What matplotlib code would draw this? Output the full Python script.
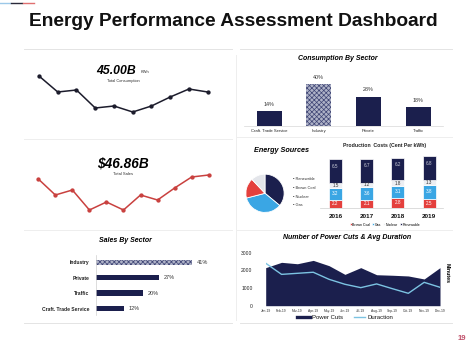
import matplotlib
matplotlib.use('Agg')
import matplotlib.pyplot as plt
from matplotlib.lines import Line2D

W, H = 474, 355
plt.rcParams['font.family'] = ['Liberation Sans', 'DejaVu Sans']
plt.rcParams['hatch.linewidth'] = 0.5

NAVY = '#1b1f4d'
RED = '#e4403d'
LBLUE = '#3aa6e4'
NUCL = '#eceef2'
PIEGRAY = '#e3e5ea'
SALESRED = '#c9413f'
DURBLUE = '#7cc3e2'
HATCHFACE = '#aeb2c7'
HATCHEDGE = '#3e4474'

# ---------------- data ----------------
cons_values = [4.4, 3.6, 3.7, 2.8, 2.9, 2.6, 2.9, 3.35, 3.75, 3.6]
sales_values = [4.8, 4.0, 4.25, 3.25, 3.65, 3.25, 4.0, 3.75, 4.35, 4.9, 5.0]

sector_cats = ['Craft. Trade Service', 'Industry', 'Private', 'Traffic']
sector_cons = [14, 40, 28, 18]

source_labels = ['Renewable', 'Gas', 'Brown Coal', 'Nuclear']
source_share = [36, 35, 17, 12]
legend_sources = ['Renewable', 'Brown Coal', 'Nuclear', 'Gas']

years = ['2016', '2017', '2018', '2019']
cost_brown = [2.2, 2.1, 2.8, 2.5]
cost_gas = [3.2, 3.6, 3.1, 3.8]
cost_nuclear = [1.5, 1.2, 1.8, 1.3]
cost_renew = [6.5, 6.7, 6.2, 6.8]

sales_cats = ['Industry', 'Private', 'Traffic', 'Craft. Trade Service']
sales_share = [41, 27, 20, 12]

months = ['Jan-19', 'Feb-19', 'Mar-19', 'Apr-19', 'May-19', 'Jun-19',
          'Jul-19', 'Aug-19', 'Sep-19', 'Oct-19', 'Nov-19', 'Dec-19']
power_cuts = [2150, 2450, 2370, 2560, 2260, 1770, 2150, 1750, 1720, 1680, 1510, 2150]
duration = [2400, 1770, 1830, 1890, 1490, 1210, 1020, 1230, 960, 700, 1320, 1040]

# ---------------- figure ----------------
fig = plt.figure(figsize=(W / 100, H / 100), dpi=100)
fig.patch.set_facecolor('white')


def box(x0, y0, x1, y1):
    return fig.add_axes([x0 / W, 1 - y1 / H, (x1 - x0) / W, (y1 - y0) / H])


def ftext(x, y, s, **kw):
    kw.setdefault('ha', 'center')
    kw.setdefault('va', 'center')
    return fig.text(x / W, 1 - y / H, s, **kw)


def fline(xs, ys, color='#e4e4e4', lw=0.7):
    fig.add_artist(Line2D([x / W for x in xs], [1 - y / H for y in ys],
                          color=color, lw=lw))


def clean(ax):
    for s in ax.spines.values():
        s.set_visible(False)
    ax.set_xticks([])
    ax.set_yticks([])
    ax.patch.set_alpha(0)


# decorative top-left strokes
fline([0, 10], [2.5, 2.5], color='#9cc8e8', lw=1.0)
fline([11, 22], [2.5, 2.5], color='#2a2a3a', lw=1.0)
fline([23, 34], [2.5, 2.5], color='#e07070', lw=1.0)

# title
ftext(233, 21, 'Energy Performance Assessment Dashboard', fontsize=13.8,
      fontweight='bold', color='#111111')

# panel separators
for y in (49, 323):
    fline([24, 232], [y, y])
    fline([240, 452], [y, y])
fline([24, 232], [139, 139], color='#eeeeee')
fline([24, 232], [230, 230], color='#eeeeee')
fline([236, 452], [137, 137], color='#eeeeee')
fline([236, 452], [230, 230], color='#eeeeee')
fline([236, 236], [55, 320], color='#eeeeee')

# ---------------- consumption line ----------------
ax = box(39, 60, 207.7, 130)
ax.plot(range(len(cons_values)), cons_values, color='#1c1c2c', lw=1.1,
        marker='o', ms=2.1, clip_on=False)
ax.set_xlim(0, len(cons_values) - 1)
ax.set_ylim(1.7, 5.2)
clean(ax)
ftext(116.5, 70.5, '45.00B', fontsize=8.8, fontweight='bold', style='italic')
ftext(140.5, 72.3, 'KWh', fontsize=2.9, ha='left', color='#333333')
ftext(123, 80.7, 'Total Consumption', fontsize=2.9, color='#333333')

# ---------------- sales line ----------------
ax = box(38.3, 155, 208.7, 220)
ax.plot(range(len(sales_values)), sales_values, color=SALESRED, lw=1.1,
        marker='o', ms=2.1, clip_on=False)
ax.set_xlim(0, len(sales_values) - 1)
ax.set_ylim(2.75, 6.0)
clean(ax)
ftext(123.3, 163.3, '$46.86B', fontsize=9.8, fontweight='bold', style='italic')
ftext(123.3, 174, 'Total Sales', fontsize=3.0, color='#333333')

# ---------------- consumption by sector ----------------
ax = box(244.35, 60, 443.05, 126)
xs = list(range(len(sector_cats)))
bars = ax.bar(xs, sector_cons, width=0.5, color=NAVY, linewidth=0)
bars[1].set_facecolor(HATCHFACE)
bars[1].set_edgecolor(HATCHEDGE)
bars[1].set_hatch('xxxxxxx')
ax.set_xlim(-0.5, 3.5)
ax.set_ylim(0, 63.5)
for x, v in zip(xs, sector_cons):
    ax.annotate(f'{v}%', (x, v), xytext=(0, 4.5), textcoords='offset pixels',
                ha='center', va='bottom', fontsize=3.9, color='#333333')
clean(ax)
ax.spines['bottom'].set_visible(True)
ax.spines['bottom'].set_color('#d8d8d8')
ax.spines['bottom'].set_linewidth(0.5)
ax.set_xticks(xs)
ax.set_xticklabels(sector_cats, fontsize=3.0, color='#222222')
ax.tick_params(axis='x', length=0, pad=2.2)
ftext(338, 59, 'Consumption By Sector', fontsize=5.0, fontweight='bold',
      style='italic')

# ---------------- energy sources pie ----------------
ax = box(245.5, 173.8, 284.5, 212.8)
ax.pie(source_share, colors=[NAVY, LBLUE, RED, PIEGRAY], startangle=90,
       counterclock=False, radius=1.0,
       wedgeprops=dict(edgecolor='white', linewidth=0.6))
ax.set_xlim(-1.02, 1.02)
ax.set_ylim(-1.02, 1.02)
ax.set_aspect('equal')
ftext(281.7, 150, 'Energy Sources', fontsize=5.2, fontweight='bold',
      style='italic')
for lab, y in zip(legend_sources, [179, 188.3, 196.7, 205]):
    ftext(293, y, '\u25aa ' + lab, fontsize=2.8, ha='left', color='#333333')

# ---------------- production costs stacked ----------------
ax = box(320, 150, 443, 207.7)
xs = list(range(len(years)))
spacing = 31.17
ax.set_xlim((320 - 335.5) / spacing, (443 - 335.5) / spacing)
ax.set_ylim(0, 57.7 / 3.61)
bw = 13 / spacing
bottoms = [0] * 4
segs = [(cost_brown, RED, 'white', 'Brown Coal'),
        (cost_gas, LBLUE, 'white', 'Gas'),
        (cost_nuclear, NUCL, '#333333', 'Nuclear'),
        (cost_renew, NAVY, '#c9ccd8', 'Renewable')]
for vals, col, tcol, lab in segs:
    ax.bar(xs, vals, width=bw, bottom=bottoms, color=col, edgecolor='white',
           linewidth=0.5, label=lab)
    for x, b, v in zip(xs, bottoms, vals):
        ax.text(x, b + v / 2 if lab != 'Renewable' else b + v * 0.7,
                f'{v}', ha='center', va='center', fontsize=3.3, color=tcol)
    bottoms = [b + v for b, v in zip(bottoms, vals)]
clean(ax)
ax.spines['bottom'].set_visible(True)
ax.spines['bottom'].set_color('#cfcfcf')
ax.spines['bottom'].set_linewidth(0.5)
ax.set_xticks(xs)
ax.set_xticklabels(years, fontsize=4.6, fontweight='bold', color='#111111')
ax.tick_params(axis='x', length=0, pad=4.2)
ftext(385, 145, 'Production  Costs (Cent Per kWh)', fontsize=3.7,
      fontweight='bold', color='#222222')
ax.legend(loc='center', bbox_to_anchor=(385 / W, 1 - 224.5 / H),
          bbox_transform=fig.transFigure, ncol=4, fontsize=2.5,
          frameon=False, handlelength=0.5, handleheight=0.5,
          handletextpad=0.2, columnspacing=0.6, borderpad=0)

# ---------------- sales by sector ----------------
ax = box(96.3, 255, 215, 315)
ys = list(range(len(sales_cats)))
hb = ax.barh(ys, sales_share, height=0.34, color=NAVY, linewidth=0)
hb[0].set_facecolor(HATCHFACE)
hb[0].set_edgecolor(HATCHEDGE)
hb[0].set_hatch('xxxxxxx')
ax.set_ylim((315 - 262.3) / 15.4, (255 - 262.3) / 15.4)
ax.set_xlim(0, 118.7 / 2.334)
for y, v in zip(ys, sales_share):
    ax.annotate(f'{v}%', (v, y), xytext=(4.5, 0), textcoords='offset pixels',
                ha='left', va='center', fontsize=4.0, color='#333333')
clean(ax)
ax.spines['left'].set_visible(True)
ax.spines['left'].set_color('#cfcfcf')
ax.spines['left'].set_linewidth(0.5)
ax.set_yticks(ys)
ax.set_yticklabels(sales_cats, fontsize=3.6, fontweight='bold', color='#222222')
ax.tick_params(axis='y', length=0, pad=5)
ftext(125, 240.7, 'Sales By Sector', fontsize=5.0, fontweight='bold',
      style='italic')

# ---------------- power cuts ----------------
ax = box(265.7, 250, 440, 305.7)
xs = list(range(len(months)))
ax.fill_between(xs, power_cuts, 0, color=NAVY, linewidth=0)
ax.plot(xs, duration, color=DURBLUE, lw=1.0)
ax.set_xlim(0, 11)
ax.set_ylim(0, 55.7 / 17.7 * 1000)
for s in ax.spines.values():
    s.set_visible(False)
ax.patch.set_alpha(0)
ax.set_yticks([0, 1000, 2000, 3000])
ax.set_yticklabels(['0', '1000', '2000', '3000'], fontsize=3.6, color='#222222')
ax.tick_params(axis='y', length=0, pad=9.5)
ax.set_xticks(xs)
ax.set_xticklabels(months, fontsize=2.4, color='#333333')
ax.tick_params(axis='x', length=0, pad=2.5)
ftext(346.7, 237.5, 'Number of Power Cuts & Avg Duration', fontsize=5.0,
      fontweight='bold', style='italic')
ftext(446.7, 273, 'Minutes', fontsize=3.8, fontweight='bold', rotation=270)
fline([297, 310], [317.3, 317.3], color=NAVY, lw=2.4)
ftext(312.5, 317.5, 'Power Cuts', fontsize=4.3, ha='left', color='#111111')
fline([354, 365], [317.3, 317.3], color=DURBLUE, lw=1.0)
ftext(367.5, 317.5, 'Duraction', fontsize=4.3, ha='left', color='#111111')

# page number
ftext(462, 338, '19', fontsize=5.6, fontweight='bold', color='#c0506a')

fig.savefig('out.png', dpi=100)
